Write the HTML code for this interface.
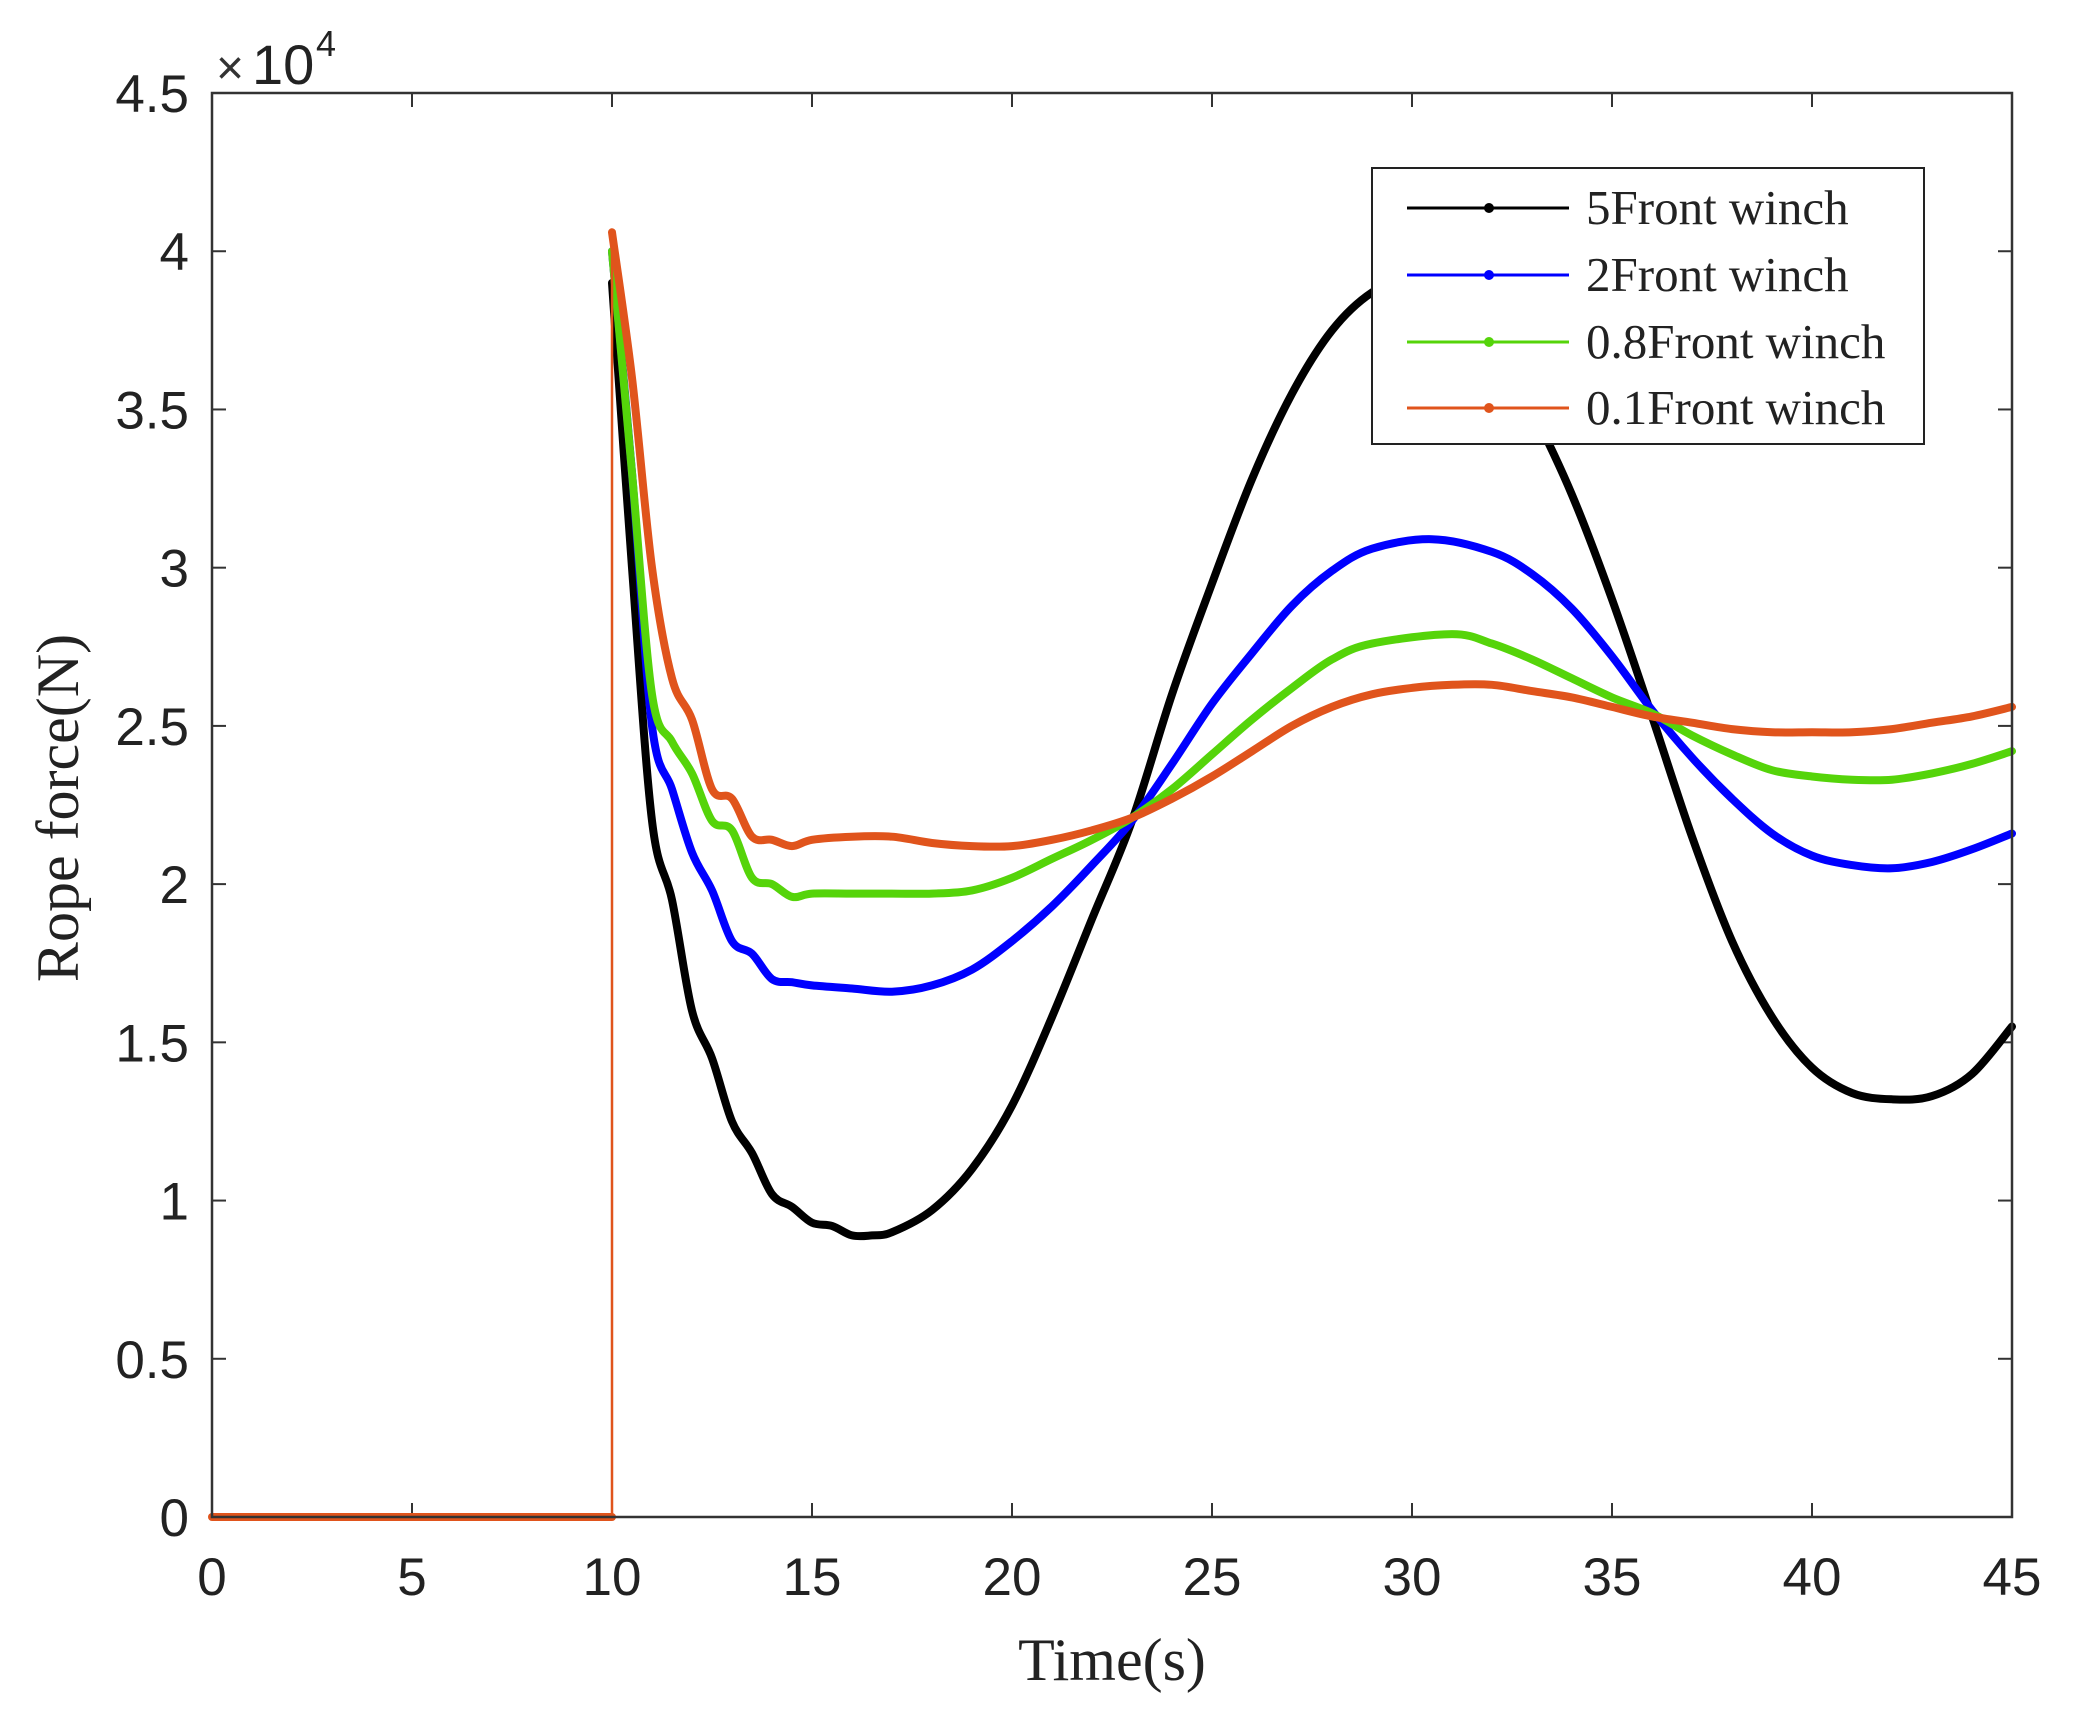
<!DOCTYPE html>
<html><head><meta charset="utf-8"><style>
html,body{margin:0;padding:0;background:#fff;}
svg{display:block;}
</style></head><body>
<svg id="s" width="2076" height="1716" xmlns="http://www.w3.org/2000/svg" font-family="Liberation Sans, Arial, sans-serif">
<rect width="2076" height="1716" fill="#fff"/>
<g id="ticks" stroke="#333" stroke-width="2"></g>
<g id="lbl" font-size="53" fill="#222"></g>
<text x="216" y="84" font-size="48" fill="#333">×</text>
<text x="252" y="84" font-size="56" fill="#222">10</text>
<text x="316" y="56" font-size="36" fill="#222">4</text>
<g id="curves" fill="none" stroke-linejoin="round" stroke-linecap="round"></g>
<rect x="212" y="93" width="1800" height="1424" fill="none" stroke="#333" stroke-width="2.5"/>
<g>
<rect x="1372" y="168" width="552" height="276" fill="#fff" stroke="#222" stroke-width="2"/>
<g stroke-width="3">
<line x1="1407" y1="208" x2="1569" y2="208" stroke="#000"/><circle cx="1489" cy="208" r="5" fill="#000"/>
<line x1="1407" y1="275" x2="1569" y2="275" stroke="#0000ff"/><circle cx="1489" cy="275" r="5" fill="#0000ff"/>
<line x1="1407" y1="342" x2="1569" y2="342" stroke="#55d40a"/><circle cx="1489" cy="342" r="5" fill="#55d40a"/>
<line x1="1407" y1="408" x2="1569" y2="408" stroke="#e0541c"/><circle cx="1489" cy="408" r="5" fill="#e0541c"/>
</g>
<g font-family="Liberation Serif, Times New Roman, serif" font-size="49" fill="#222">
<text x="1586" y="224">5Front winch</text>
<text x="1586" y="291">2Front winch</text>
<text x="1586" y="358">0.8Front winch</text>
<text x="1586" y="424">0.1Front winch</text>
</g>
</g>
<text x="1112" y="1680" font-family="Liberation Serif, Times New Roman, serif" font-size="60" fill="#222" text-anchor="middle">Time(s)</text>
<text transform="translate(78,808) rotate(-90)" font-family="Liberation Serif, Times New Roman, serif" font-size="60" fill="#222" text-anchor="middle">Rope force(N)</text>
</svg>
<script>
var X=function(t){return 212+t*40;},Y=function(v){return 1517-v*31.644;};
var ns="http://www.w3.org/2000/svg";
var tk=document.getElementById('ticks'),lb=document.getElementById('lbl');
function el(p,n,a,txt){var e=document.createElementNS(ns,n);for(var k in a)e.setAttribute(k,a[k]);if(txt!==undefined)e.textContent=txt;p.appendChild(e);}
for(var t=0;t<=45;t+=5){var x=X(t);el(tk,'line',{x1:x,y1:1517,x2:x,y2:1503});el(tk,'line',{x1:x,y1:93,x2:x,y2:107});
el(lb,'text',{x:x,y:1595,'text-anchor':'middle'},String(t));}
for(var i=0;i<=9;i++){var v=i*5,y=Y(v);el(tk,'line',{x1:212,y1:y,x2:226,y2:y});el(tk,'line',{x1:2012,y1:y,x2:1998,y2:y});
el(lb,'text',{x:189,y:y+19,'text-anchor':'end'},(i%2==0?String(i/2):(i/2).toFixed(1)));}
function path(pts){var P=pts.map(function(p){return[X(p[0]),Y(p[1])];});var d='M'+P[0][0]+','+P[0][1];
for(var i=0;i<P.length-1;i++){var p0=P[i-1]||P[i],p1=P[i],p2=P[i+1],p3=P[i+2]||P[i+1];
var c1=[p1[0]+(p2[0]-p0[0])/6,p1[1]+(p2[1]-p0[1])/6],c2=[p2[0]-(p3[0]-p1[0])/6,p2[1]-(p3[1]-p1[1])/6];
d+=' C'+c1[0].toFixed(1)+','+c1[1].toFixed(1)+' '+c2[0].toFixed(1)+','+c2[1].toFixed(1)+' '+p2[0].toFixed(1)+','+p2[1].toFixed(1);}return d;}
var cv=document.getElementById('curves');
var black=[[10,39],[10.5,30],[11,22],[11.5,19.5],[12,16],[12.5,14.5],[13,12.5],[13.5,11.5],[14,10.2],[14.5,9.8],[15,9.3],[15.5,9.2],[16,8.9],[16.5,8.9],[17,9],[18,9.7],[19,11],[20,13],[21,15.8],[22,18.9],[23,22],[24,26],[25,29.5],[26,32.8],[27,35.5],[28,37.5],[29,38.7],[30,39.2],[31,38.8],[32,37.3],[33,35],[34,32.3],[35,29],[36,25.3],[37,21.5],[38,18.2],[39,15.8],[40,14.2],[41,13.4],[42,13.2],[43,13.3],[44,14],[45,15.5]];
var blue=[[10,40],[10.5,33],[11,25],[11.5,23],[12,21],[12.5,19.8],[13,18.2],[13.5,17.8],[14,17],[14.5,16.9],[15,16.8],[16,16.7],[17,16.6],[18,16.8],[19,17.3],[20,18.2],[21,19.3],[22,20.6],[23,22],[24,23.8],[25,25.7],[26,27.3],[27,28.8],[28,29.9],[29,30.6],[30.5,30.9],[32,30.5],[33,29.8],[34,28.7],[35,27.2],[36,25.5],[37,24],[38,22.7],[39,21.6],[40,20.9],[41,20.6],[42,20.5],[43,20.7],[44,21.1],[45,21.6]];
var green=[[10,40],[10.5,33],[11,26],[11.5,24.5],[12,23.5],[12.5,22],[13,21.7],[13.5,20.2],[14,20],[14.5,19.6],[15,19.7],[16,19.7],[17,19.7],[18,19.7],[19,19.8],[20,20.2],[21,20.8],[22,21.4],[23,22.1],[24,23],[25,24.1],[26,25.2],[27,26.2],[28,27.1],[29,27.6],[31,27.9],[32,27.6],[33,27.1],[34,26.5],[35,25.9],[36,25.4],[37,24.7],[38,24.1],[39,23.6],[40,23.4],[41,23.3],[42,23.3],[43,23.5],[44,23.8],[45,24.2]];
var orange=[[10,40.6],[10.5,36],[11,30],[11.5,26.5],[12,25.2],[12.5,23],[13,22.7],[13.5,21.5],[14,21.4],[14.5,21.2],[15,21.4],[16,21.5],[17,21.5],[18,21.3],[19,21.2],[20,21.2],[21,21.4],[22,21.7],[23,22.1],[24,22.7],[25,23.4],[26,24.2],[27,25],[28,25.6],[29,26],[30,26.2],[31,26.3],[32,26.3],[33,26.1],[34,25.9],[35,25.6],[36,25.3],[37,25.1],[38,24.9],[39,24.8],[40,24.8],[41,24.8],[42,24.9],[43,25.1],[44,25.3],[45,25.6]];
el(cv,'path',{d:path(black),stroke:'#000','stroke-width':8});
el(cv,'path',{d:path(blue),stroke:'#0000ff','stroke-width':8});
el(cv,'path',{d:path(green),stroke:'#55d40a','stroke-width':8});
el(cv,'path',{d:path(orange),stroke:'#e0541c','stroke-width':8});
el(cv,'line',{x1:X(10),y1:Y(0),x2:X(10),y2:Y(40.6),stroke:'#e0541c','stroke-width':2.5});
el(cv,'line',{x1:X(0),y1:Y(0),x2:X(10),y2:Y(0),stroke:'#e0541c','stroke-width':8});
</script>
</body></html>
